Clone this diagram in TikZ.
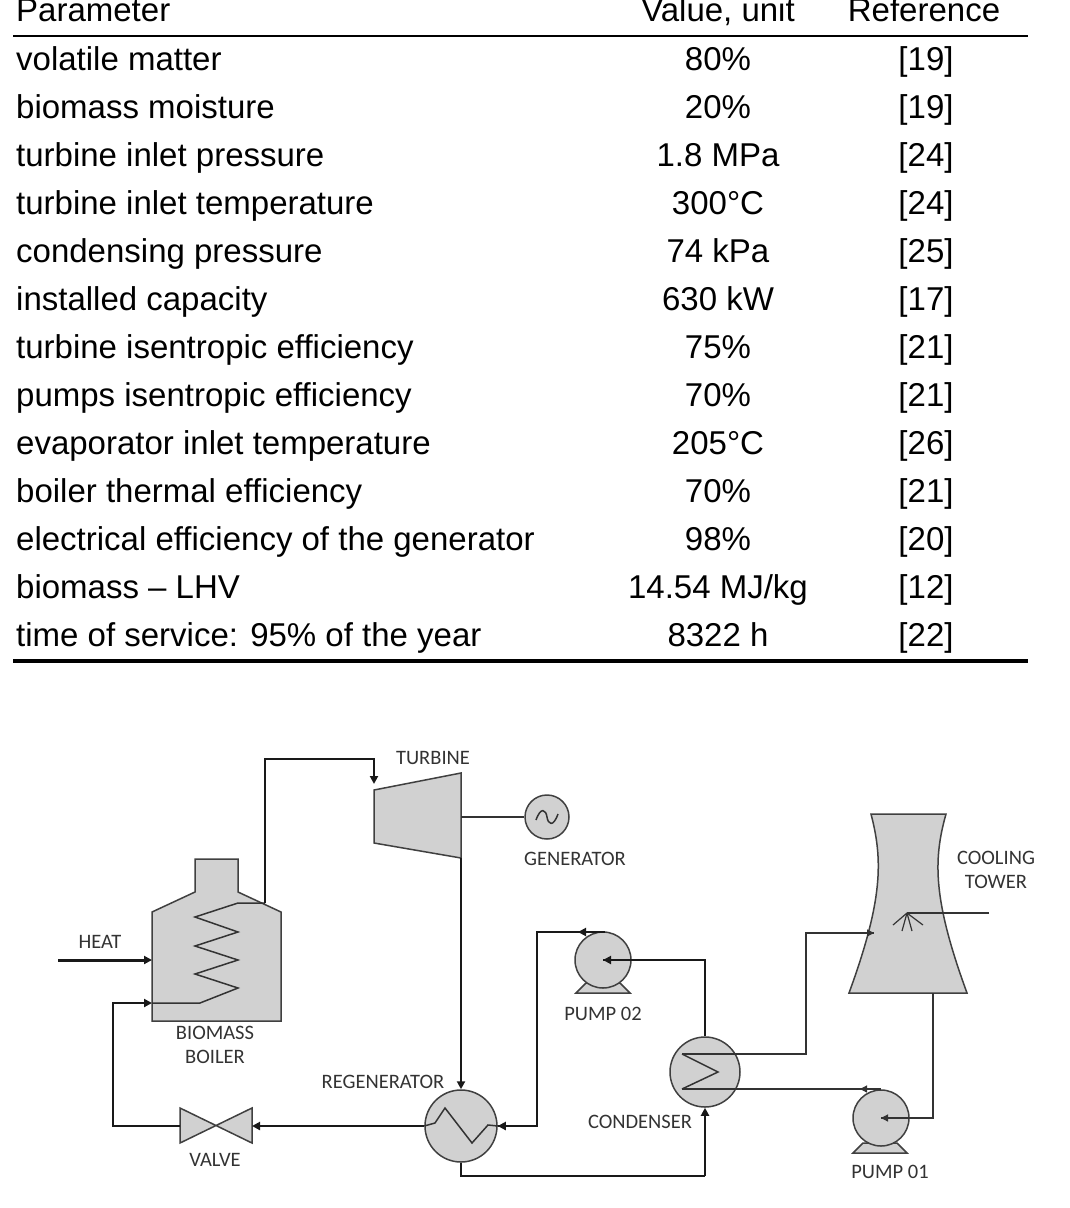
\documentclass[tikz,border=0pt]{standalone}
\usepackage{fontspec}
\setmainfont{Liberation Sans}
\newfontfamily\lab{Carlito}
\usetikzlibrary{arrows.meta}
\begin{document}
\begin{tikzpicture}[x=1pt,y=-1pt,
  tx/.style={font=\fontsize{33}{36}\selectfont,inner sep=0pt,anchor=base},
  lb/.style={font=\lab\fontsize{20.5}{24}\selectfont,text=black!80,inner sep=0pt,align=center},
  eq/.style={draw=black!75,fill=black!18,line width=1.5pt},
  pipe/.style={draw=black!90,line width=2.5pt},
  thin/.style={draw=black!80,line width=1.2pt},
  arr/.style={-{Triangle[length=8pt,width=8pt]}},
  sarr/.style={-{Triangle[length=7pt,width=7pt]}}]
\useasboundingbox (0,0) rectangle (1070,1208);
% ---- table
\node[tx,anchor=base west] (h1) at (16,21) {Parameter};
\node[tx] (h2) at (718,21) {Value, unit};
\node[tx] (h3) at (924,21) {Reference};
\draw[line width=1.5pt] (13,36) -- (1028,36);
\foreach \p/\v/\r [count=\i from 0] in {
volatile matter/80\%/[19],
biomass moisture/20\%/[19],
turbine inlet pressure/1.8 MPa/[24],
turbine inlet temperature/300°C/[24],
condensing pressure/74 kPa/[25],
installed capacity/630 kW/[17],
turbine isentropic efficiency/75\%/[21],
pumps isentropic efficiency/70\%/[21],
evaporator inlet temperature/205°C/[26],
boiler thermal efficiency/70\%/[21],
electrical efficiency of the generator/98\%/[20],
biomass – LHV/{14.54 MJ/kg}/[12],
time of service: 95\% of the year/8322 h/[22]}{
  \node[tx,anchor=base west] (p\i) at (16,{70+48*\i}) {\p};
  \node[tx] (v\i) at (718,{70+48*\i}) {\v};
  \node[tx] (r\i) at (926,{70+48*\i}) {\r};
}
\draw[line width=3.5pt] (13,661) -- (1028,661);
% ---- boiler
\path[eq] (152,1021) -- (152,912) -- (195,892) -- (195,859) -- (238,859) -- (238,892) -- (281,912) -- (281,1021) -- cycle;
\coordinate (boilout) at (265,903);
\coordinate (boilin) at (152,1003);
\draw[line width=1.5pt,black!80] (boilout) -- (238,903) -- (195,917) -- (238,932) -- (195,946) -- (238,960) -- (195,974) -- (238,988) -- (200,1003) -- (boilin);
% turbine
\path[eq] (374,790) -- (461,773) -- (461,858) -- (374,843) -- cycle;
\coordinate (turbin) at (374,784);
\coordinate (turbout) at (461,858);
% generator
\node[eq,circle,minimum size=44pt,inner sep=0pt] (gen) at (547,817) {};
\draw[line width=1.5pt,black!80] (536,820) .. controls (541,806) and (546,810) .. (547,817) .. controls (548,824) and (553,828) .. (558,814);
\draw[thin,line width=1.5pt] (461,817) -- (gen.west);
% regenerator
\node[eq,circle,minimum size=72pt,inner sep=0pt] (reg) at (461,1126) {};
\draw[line width=1.5pt,black!80] (reg.west) -- (435,1123) -- (445,1108) -- (472,1143) -- (488,1125) -- (reg.east);
% valve
\path[eq] (180,1108) -- (252,1143) -- (252,1108) -- (180,1143) -- cycle;
\coordinate (valve) at (216,1126);
% condenser
\node[eq,circle,minimum size=70pt,inner sep=0pt] (cond) at (705,1072) {};
\draw[line width=1.5pt,black!80] (682,1054) -- (718,1072) -- (682,1089);
% pumps
\path[eq] (576,993) -- (586,983) -- (620,983) -- (630,993) -- cycle;
\node[eq,circle,minimum size=56pt,inner sep=0pt] (p2) at (603,960) {};
\path[eq] (853,1153) -- (863,1143) -- (897,1143) -- (907,1153) -- cycle;
\node[eq,circle,minimum size=56pt,inner sep=0pt] (p1) at (881,1118) {};
% cooling tower
\path[eq] (871,814) -- (946,814) .. controls (933,860) and (933,900) .. (967,993) -- (849,993) .. controls (883,900) and (883,860) .. (871,814) -- cycle;
\coordinate (spray) at (907,913);
\coordinate (ctin) at (874,933);
\coordinate (ctout) at (933,993);
\draw[thin] (989,913) -- (spray);
\foreach \dx/\dy in {-14/12,-5/18,5/18,16/12} \draw[thin] (spray) -- ++(\dx,\dy);
% ---- pipes
\coordinate (heatL) at (58,960);
\draw[pipe,line width=3pt,arr] (heatL) -- (152,960);
\draw[pipe,arr] (boilout) |- (374,759) -- (turbin);
\draw[pipe,arr] (turbout) -- (reg.north);
\draw[pipe,arr] (reg.west) -- (252,1126);
\draw[pipe,arr] (180,1126) -- (113,1126) |- (boilin);
\draw[pipe] (reg.south) |- (705,1176);
\draw[pipe,arr] (705,1176) -- (cond.south);
\draw[pipe] (cond.north) |- (p2.center);
\draw[pipe,arr] (640,960) -- (p2.center);
\draw[pipe] (600,932) -- (537,932) |- (reg.east);
\draw[pipe,arr] (537,1126) -- (reg.east);
\draw[pipe,arr] (605,932) -- (578,932);
\draw[thin] (682,1054) -- (806,1054) |- (ctin);
\draw[thin,sarr] (850,933) -- (ctin);
\draw[thin] (682,1089) -- (881,1089);
\draw[thin,sarr] (881,1089) -- (860,1089);
\draw[thin] (ctout) |- (p1.center);
\draw[thin,sarr] (910,1118) -- (p1.center);
% ---- labels
\node[lb] (lt) at (433,758) {TURBINE};
\node[lb] (lg) at (575,859) {GENERATOR};
\node[lb] (lc) at (996,870) {COOLING\\TOWER};
\node[lb] (lh) at (100,942) {HEAT};
\node[lb] (lbb) at (215,1045) {BIOMASS\\BOILER};
\node[lb] (lr) at (383,1082) {REGENERATOR};
\node[lb] (lv) at (215,1160) {VALVE};
\node[lb] (lp2) at (603,1014) {PUMP 02};
\node[lb] (lcd) at (640,1122) {CONDENSER};
\node[lb] (lp1) at (890,1172) {PUMP 01};
\end{tikzpicture}
\end{document}
